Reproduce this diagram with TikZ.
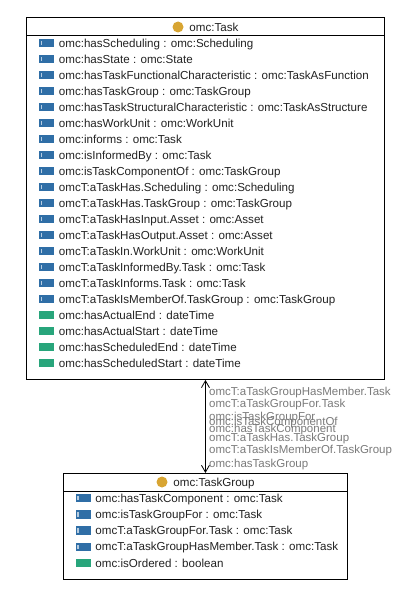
\documentclass[tikz,border=0pt]{standalone}
\usepackage{fontspec}
\setmainfont{Liberation Sans}
\usepackage{tikz}
\usetikzlibrary{arrows.meta, positioning}
\usepackage{xcolor}
\definecolor{objblue}{HTML}{2F6EA6}
\definecolor{datagreen}{HTML}{28A57B}
\definecolor{classgold}{HTML}{D8A533}
\definecolor{relgray}{HTML}{7A7A7A}
\definecolor{inkgray}{HTML}{222222}

\begin{document}
\begin{tikzpicture}[x=1pt, y=-1pt,
    classbox/.style={draw, line width=0.9pt, anchor=north west, inner sep=0pt},
    dot/.style={circle, fill=classgold, minimum size=11pt, inner sep=0pt},
    objicon/.style={fill=objblue, minimum width=15pt, minimum height=8.5pt, inner sep=0pt,
        path picture={\fill[white!65!objblue] ([xshift=1.5pt,yshift=-2pt]path picture bounding box.north west) rectangle ++(1.6pt,-4.5pt);}},
    dataicon/.style={fill=datagreen, minimum width=15pt, minimum height=8.5pt, inner sep=0pt},
    attr/.style={inner sep=0pt, text height=8.2pt, text depth=0pt, font=\fontsize{11.6}{13}\selectfont, text=inkgray},
    rellabel/.style={inner sep=0pt, anchor=base west, font=\fontsize{11.5}{13}\selectfont, text=relgray},
    rel/.style={{Straight Barb[length=7pt,width=8pt]}-{Straight Barb[length=7pt,width=8pt]}, line width=0.8pt}
]
\useasboundingbox (0,0) rectangle (420,602);

% omc:Task
\node[classbox, minimum width=358pt, minimum height=362pt] (task) at (26,17) {};
\draw[line width=0.8pt] ([yshift=-18pt]task.north west) -- ([yshift=-18pt]task.north east);
\node[dot] (taskdot) at (178,27) {};
\node[attr, right=5.5pt of taskdot] (tasktitle) {omc:Task};

\foreach \txt [count=\i from 0] in {
    omc:hasScheduling : omc:Scheduling,
    omc:hasState : omc:State,
    omc:hasTaskFunctionalCharacteristic : omc:TaskAsFunction,
    omc:hasTaskGroup : omc:TaskGroup,
    omc:hasTaskStructuralCharacteristic : omc:TaskAsStructure,
    omc:hasWorkUnit : omc:WorkUnit,
    omc:informs : omc:Task,
    omc:isInformedBy : omc:Task,
    omc:isTaskComponentOf : omc:TaskGroup,
    omcT:aTaskHas.Scheduling : omc:Scheduling,
    omcT:aTaskHas.TaskGroup : omc:TaskGroup,
    omcT:aTaskHasInput.Asset : omc:Asset,
    omcT:aTaskHasOutput.Asset : omc:Asset,
    omcT:aTaskIn.WorkUnit : omc:WorkUnit,
    omcT:aTaskInformedBy.Task : omc:Task,
    omcT:aTaskInforms.Task : omc:Task,
    omcT:aTaskIsMemberOf.TaskGroup : omc:TaskGroup}{
  \node[objicon] (ti\i) at (46.5,43+16*\i) {};
  \node[attr, right=4.5pt of ti\i] (tr\i) {\txt};
}
\foreach \txt [count=\i from 17] in {
    omc:hasActualEnd : dateTime,
    omc:hasActualStart : dateTime,
    omc:hasScheduledEnd : dateTime,
    omc:hasScheduledStart : dateTime}{
  \node[dataicon] (ti\i) at (46.5,43+16*\i) {};
  \node[attr, right=4.5pt of ti\i] (tr\i) {\txt};
}

% omc:TaskGroup
\node[classbox, minimum width=284pt, minimum height=106pt] (group) at (63,473) {};
\draw[line width=0.8pt] ([yshift=-18pt]group.north west) -- ([yshift=-18pt]group.north east);
\node[dot] (groupdot) at (162,482) {};
\node[attr, right=5.5pt of groupdot] (grouptitle) {omc:TaskGroup};

\foreach \txt [count=\i from 0] in {
    omc:hasTaskComponent : omc:Task,
    omc:isTaskGroupFor : omc:Task,
    omcT:aTaskGroupFor.Task : omc:Task,
    omcT:aTaskGroupHasMember.Task : omc:Task}{
  \node[objicon] (gi\i) at (83,498+16.25*\i) {};
  \node[attr, right=4.5pt of gi\i] (gr\i) {\txt};
}
\node[dataicon] (gi4) at (83,563) {};
\node[attr, right=4.5pt of gi4] (gr4) {omc:isOrdered : boolean};

% relations
\draw[rel] (task.south) -- (group.north);
\foreach \y/\txt [count=\i] in {
    395/omcT:aTaskGroupHasMember.Task,
    407/omcT:aTaskGroupFor.Task,
    420/omc:isTaskGroupFor,
    425/omc:isTaskComponentOf,
    432/omc:hasTaskComponent,
    441/omcT:aTaskHas.TaskGroup,
    453/omcT:aTaskIsMemberOf.TaskGroup,
    467/omc:hasTaskGroup}{
  \node[rellabel] (lbl\i) at (209,\y) {\txt};
}
\end{tikzpicture}
\end{document}
